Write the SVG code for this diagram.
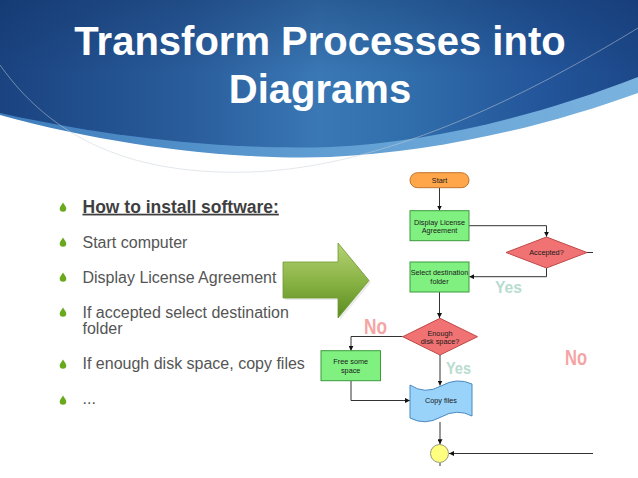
<svg xmlns="http://www.w3.org/2000/svg" width="638" height="478" viewBox="0 0 638 478">
<defs>
<linearGradient id="hdr" x1="0" y1="0" x2="1" y2="0">
<stop offset="0" stop-color="#1a4380"/>
<stop offset="0.3" stop-color="#2a5d9c"/>
<stop offset="0.5" stop-color="#3a78b5"/>
<stop offset="0.62" stop-color="#3270ad"/>
<stop offset="0.85" stop-color="#23559a"/>
<stop offset="1" stop-color="#1c4889"/>
</linearGradient>
<linearGradient id="hdrTop" x1="0" y1="0" x2="0" y2="1">
<stop offset="0" stop-color="#0f2d5e" stop-opacity="0.35"/>
<stop offset="0.5" stop-color="#0f2d5e" stop-opacity="0"/>
</linearGradient>
<linearGradient id="band" x1="0" y1="0" x2="1" y2="0">
<stop offset="0" stop-color="#3e7cbc"/>
<stop offset="0.5" stop-color="#5f9dd2"/>
<stop offset="1" stop-color="#7bb3df"/>
</linearGradient>
<linearGradient id="arrowG" x1="0" y1="0" x2="0" y2="1">
<stop offset="0" stop-color="#b6d275"/>
<stop offset="0.5" stop-color="#8ab446"/>
<stop offset="1" stop-color="#5a8b1e"/>
</linearGradient>
<marker id="ah" viewBox="0 0 10 10" refX="10" refY="5" markerWidth="5" markerHeight="5" markerUnits="userSpaceOnUse" orient="auto">
<path d="M0,0 L10,5 L0,10 Z" fill="#111"/>
</marker>
<path id="drop" d="M0,-4.5 C1.4,-2.2 3.3,-0.3 3.3,1.5 A3.3,3.3 0 0 1 -3.3,1.5 C-3.3,-0.3 -1.4,-2.2 0,-4.5 Z"/>
</defs>
<style>
.title{font-family:"Liberation Sans",Arial,sans-serif;font-weight:bold;font-size:40px;fill:#ffffff;text-anchor:middle}
.bl{font-family:"Liberation Sans",Arial,sans-serif;font-size:16px;fill:#555555}
.bh{font-family:"Liberation Sans",Arial,sans-serif;font-size:17.5px;font-weight:bold;fill:#3f3f3f;text-decoration:underline}
.bul{fill:#6aa81e}
.ft{font-family:"Liberation Sans",Arial,sans-serif;font-size:7.3px;fill:#1a1a1a;text-anchor:middle}
.proc{fill:#80f080;stroke:#3c9a3c;stroke-width:1}
.dec{fill:#f07272;stroke:#c04848;stroke-width:1}
.term{fill:#ffa64a;stroke:#c0732a;stroke-width:1}
.doc{fill:#99d3fa;stroke:#4a88c0;stroke-width:1}
.conn{fill:#ffff80;stroke:#9a9a7a;stroke-width:1}
.ln{fill:none;stroke:#333;stroke-width:1}
.yes{font-family:"Liberation Sans",Arial,sans-serif;font-weight:bold;font-size:17px;fill:#b8dccf}
.no{font-family:"Liberation Sans",Arial,sans-serif;font-weight:bold;font-size:22px;fill:#f5a4a4}
</style>
<rect x="0" y="0" width="638" height="478" fill="#ffffff"/>
<!-- header -->
<path d="M0,0 H638 V93 C550,125 440,152 330,157 C240,160 120,148 0,115 Z" fill="url(#band)"/>
<path d="M0,0 H638 V77 C540,115 430,143 330,147 C240,150 120,140 0,113 Z" fill="url(#hdr)"/>
<path d="M0,0 H638 V77 C540,115 430,143 330,147 C240,150 120,140 0,113 Z" fill="url(#hdrTop)"/>
<path d="M0,65 C60,150 150,175 250,172 C380,168 520,100 638,28" fill="none" stroke="#c8d0d8" stroke-width="1" opacity="0.5"/>
<text class="title" x="320" y="54.5">Transform Processes into</text>
<text class="title" x="320" y="102.5">Diagrams</text>
<!-- bullets -->
<g id="bullets">
<use href="#drop" class="bul" x="63" y="207"/>
<text class="bh" x="82.5" y="212.7">How to install software:</text>
<use href="#drop" class="bul" x="63" y="242"/>
<text class="bl" x="82.5" y="247.7">Start computer</text>
<use href="#drop" class="bul" x="63" y="277"/>
<text class="bl" x="82.5" y="282.7">Display License Agreement</text>
<use href="#drop" class="bul" x="63" y="312"/>
<text class="bl" x="82.5" y="317.7">If accepted select destination</text>
<text class="bl" x="82.5" y="334">folder</text>
<use href="#drop" class="bul" x="63" y="364"/>
<text class="bl" x="82.5" y="369.3">If enough disk space, copy files</text>
<use href="#drop" class="bul" x="63" y="400"/>
<text class="bl" x="82.5" y="404">...</text>
</g>
<!-- big arrow -->
<g id="bigArrow">
<path d="M285,264 H340 V245 L371,282.5 L340,320 V300 H285 Z" fill="#000" opacity="0.08"/>
<path d="M283,262 H338 V243 L369,280.5 L338,318 V298 H283 Z" fill="url(#arrowG)" stroke="#6e9a32" stroke-width="0.8"/>
</g>
<!-- connectors -->
<g id="connectors">
<line class="ln" x1="439.5" y1="188" x2="439.5" y2="210.5" marker-end="url(#ah)"/>
<polyline class="ln" points="469,225.7 546.5,225.7 546.5,236.8" marker-end="url(#ah)"/>
<line class="ln" x1="587" y1="252.5" x2="593" y2="252.5"/>
<polyline class="ln" points="546.5,268 546.5,276.7 469.3,276.7" marker-end="url(#ah)"/>
<line class="ln" x1="439.5" y1="292" x2="439.5" y2="318" marker-end="url(#ah)"/>
<polyline class="ln" points="402.7,336.5 351,336.5 351,350.7" marker-end="url(#ah)"/>
<line class="ln" x1="440" y1="355" x2="440" y2="385.5" marker-end="url(#ah)"/>
<polyline class="ln" points="351,381 351,400.5 410,400.5" marker-end="url(#ah)"/>
<line class="ln" x1="440" y1="422" x2="440" y2="444.3" marker-end="url(#ah)"/>
<line class="ln" x1="593" y1="453.5" x2="449" y2="453.5" marker-end="url(#ah)"/>
<line class="ln" x1="440" y1="463" x2="440" y2="466" stroke="#999"/>
</g>
<!-- nodes -->
<g id="start">
<rect class="term" x="410" y="172.7" width="59" height="15" rx="7.5"/>
<text class="ft" x="439.5" y="182.5">Start</text>
</g>
<g id="display">
<rect class="proc" x="410" y="210.7" width="59" height="30"/>
<text class="ft" x="439.5" y="224.5">Display License</text>
<text class="ft" x="439.5" y="233">Agreement</text>
</g>
<g id="accepted">
<polygon class="dec" points="546.5,237 587,252.5 546.5,268 506,252.5"/>
<text class="ft" x="546.5" y="255">Accepted?</text>
</g>
<g id="select">
<rect class="proc" x="410" y="262" width="59" height="30"/>
<text class="ft" x="439.5" y="275">Select destination</text>
<text class="ft" x="439.5" y="283.5">folder</text>
</g>
<g id="enough">
<polygon class="dec" points="440,318.3 477.5,336.7 440,355 402.7,336.7"/>
<text class="ft" x="440" y="335.5">Enough</text>
<text class="ft" x="440" y="344">disk space?</text>
</g>
<g id="free">
<rect class="proc" x="321" y="350.7" width="59.5" height="30"/>
<text class="ft" x="350.7" y="364">Free some</text>
<text class="ft" x="350.7" y="372.5">space</text>
</g>
<g id="copy">
<path class="doc" d="M410,385 Q425,395 441,386 Q457,377 472,384 L472,416 Q457,408 441,417 Q425,426 410,418 Z"/>
<text class="ft" x="441" y="403">Copy files</text>
</g>
<g id="end">
<circle class="conn" cx="439.5" cy="453.5" r="9"/>
</g>
<!-- labels -->
<g id="labels">
<text class="yes" x="495" y="292.5" textLength="27" lengthAdjust="spacingAndGlyphs">Yes</text>
<text class="yes" x="446" y="373.5" textLength="25" lengthAdjust="spacingAndGlyphs">Yes</text>
<text class="no" x="364" y="333.5" textLength="23" lengthAdjust="spacingAndGlyphs">No</text>
<text class="no" x="565" y="365" textLength="22" lengthAdjust="spacingAndGlyphs">No</text>
</g>
</svg>
